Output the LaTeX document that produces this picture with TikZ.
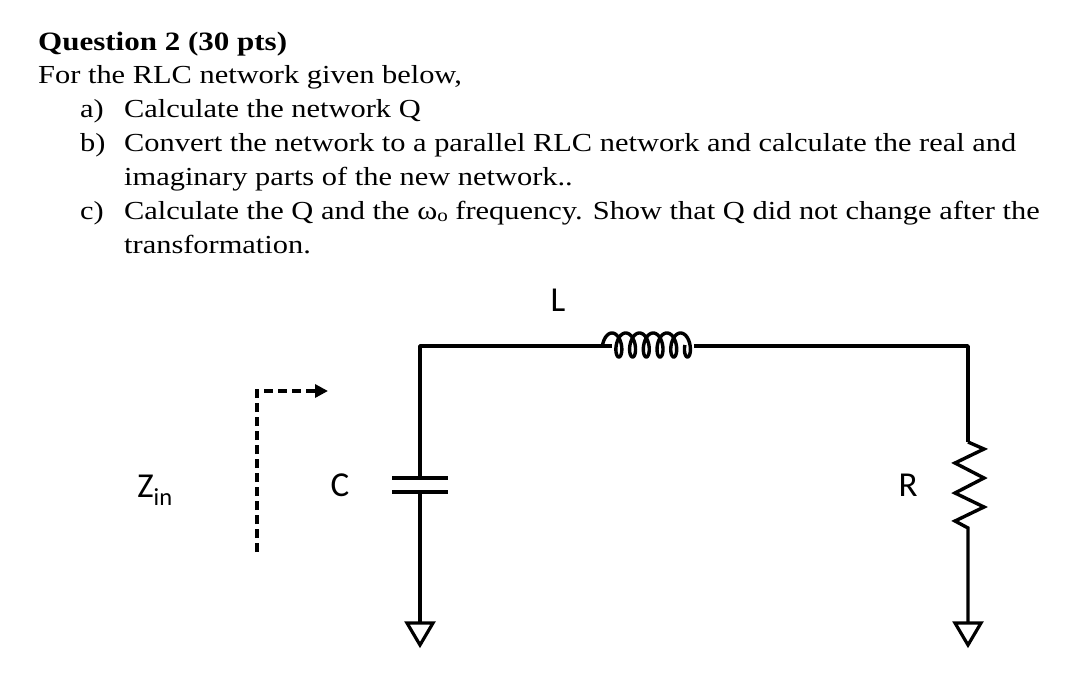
\documentclass[tikz,border=0pt]{standalone}
\usepackage{fontspec}
\setmainfont{Liberation Serif}[FakeStretch=1.17]
\newfontfamily\lblfont{Carlito}
\usetikzlibrary{arrows.meta}
\begin{document}
\begin{tikzpicture}[x=1pt,y=-1pt,
  wire/.style={line width=3.4pt},
  txt/.style={anchor=base west,inner sep=0pt,font=\fontsize{26}{28}\selectfont},
  lbl/.style={inner sep=0pt,font=\lblfont\fontsize{35}{38}\selectfont},
  gnd/.style={line width=3.2pt,line join=miter}]
\useasboundingbox (0,0) rectangle (1077,675);
\node[txt,font=\bfseries\fontsize{26.5}{28}\selectfont] (q) at (38,50) {Question 2 (30 pts)};
\node[txt] (t0) at (38,83) {For the RLC network given below,};
\node[txt] (a) at (80,117) {a)};
\node[txt] (ta) at (124,117) {Calculate the network Q};
\node[txt] (b) at (80,151) {b)};
\node[txt] (tb) at (124,151) {Convert the network to a parallel RLC network and calculate the real and};
\node[txt] (tb2) at (124,185) {imaginary parts of the new network..};
\node[txt] (c) at (80,219) {c)};
\node[txt] (tc) at (124,219) {Calculate the Q and the ω\raisebox{-2pt}{\fontsize{18}{18}\selectfont o} frequency. Show that Q did not change after the};
\node[txt] (tc2) at (124,253) {transformation.};
\node[lbl] (L) at (558,300) {L};
\node[lbl] (C) at (340,485) {C};
\node[lbl] (R) at (908,485) {R};
\node[lbl] (Z) at (155,490) {Z\textsubscript{in}};
% nodes
\coordinate (n1) at (420,346);
\coordinate (n2) at (968,346);
\coordinate (l0) at (603,346);
\coordinate (l1) at (713,346);
\coordinate (c1) at (420,478);
\coordinate (c2) at (420,492);
\coordinate (g1) at (420,623);
\coordinate (g2) at (968,623);
\coordinate (r0) at (968,442);
\coordinate (r1) at (968,528);
% wires
\draw[wire,line join=round] (c1) -- (n1) -- (l0) -- (612,346);
\draw[wire,line join=round] (694,346) -- (l1) -- (n2) -- (r0);
\draw[wire,line join=round] plot[domain=-90:2070,samples=400,smooth] ({612+0.0381*\x+6*sin(\x)},{345-12*cos(\x)});
\draw[wire] (392,478) -- (448,478);
\draw[wire] (392,492) -- (448,492);
\draw[wire] (c2) -- (g1);
\draw[gnd] (407,623) -- (433,623) -- (420,645) -- cycle;
\draw[wire,line join=miter] (r0) -- (984,449) -- (955,463) -- (984,478) -- (955,493) -- (984,507) -- (955,521) -- (r1) -- (g2);
\draw[gnd] (955,623) -- (981,623) -- (968,645) -- cycle;
% Zin arrow
\draw[line width=3.4pt,dash pattern=on 9pt off 5pt,-{Triangle[length=13pt,width=13pt]}] (257,552) -- (257,391) -- (328,391);
\end{tikzpicture}
\end{document}
